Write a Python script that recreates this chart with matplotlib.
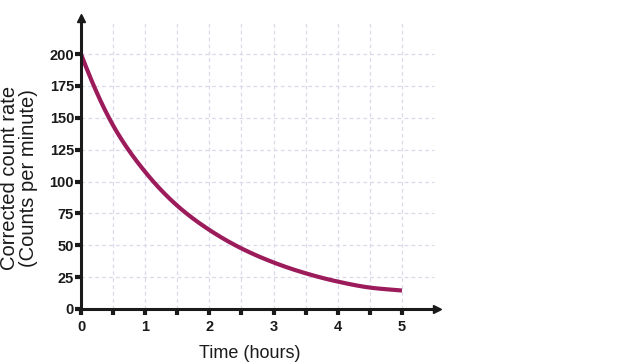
import numpy as np
import matplotlib
matplotlib.use("Agg")
import matplotlib.pyplot as plt

# Values
time_h = [0, 0.5, 1, 1.5, 2, 2.5, 3, 3.5, 4, 4.5, 5]
count_rate = [200, 144, 107.5, 81, 62, 47.5, 36.5, 28, 21.5, 16.8, 14.5]

x_labels = [0, 1, 2, 3, 4, 5]
y_ticks = [0, 25, 50, 75, 100, 125, 150, 175, 200]

curve_color = "#9c1c5b"
grid_color = "#dcd8ea"

plt.rcParams['font.family'] = ['Liberation Sans', 'DejaVu Sans']


def smooth(xs, ys, n=30):
    # Catmull-Rom spline through the read points (in log space), only for drawing
    xs = np.asarray(xs, float)
    ys = np.log(np.asarray(ys, float))
    px = np.concatenate([[2 * xs[0] - xs[1]], xs, [2 * xs[-1] - xs[-2]]])
    py = np.concatenate([[2 * ys[0] - ys[1]], ys, [2 * ys[-1] - ys[-2]]])
    out_x, out_y = [], []
    t = np.linspace(0, 1, n, endpoint=False)
    for i in range(1, len(px) - 2):
        for arr, res in ((px, out_x), (py, out_y)):
            p0, p1, p2, p3 = arr[i - 1], arr[i], arr[i + 1], arr[i + 2]
            res.extend(0.5 * (2 * p1 + (-p0 + p2) * t
                              + (2 * p0 - 5 * p1 + 4 * p2 - p3) * t ** 2
                              + (-p0 + 3 * p1 - 3 * p2 + p3) * t ** 3))
    out_x.append(xs[-1])
    out_y.append(ys[-1])
    return np.array(out_x), np.exp(np.array(out_y))


fig = plt.figure(figsize=(6.24, 3.64), dpi=100)
ax = fig.add_axes([81 / 624, 55 / 364, 359.5 / 624, 294.5 / 364])
xmax, ymax = 5.6, 231
ax.set_xlim(0, xmax)
ax.set_ylim(0, ymax)

# dashed grid
grid_x = np.arange(0.5, 5.01, 0.5)
ax.vlines(grid_x, 0, 226, colors=grid_color, linewidth=0.9, linestyles=(0, (3, 2.5)), zorder=1)
ax.hlines(y_ticks[1:], 0, 5.5, colors=grid_color, linewidth=0.9, linestyles=(0, (3, 2.5)), zorder=1)

# curve
sx, sy = smooth(time_h, count_rate)
ax.plot(sx, sy, color=curve_color, linewidth=3, solid_capstyle='butt', zorder=3)

# axes with arrows
for s in ax.spines.values():
    s.set_visible(False)
ax.plot([0, 0], [0, ymax - 3], color='#1a1a1a', lw=2.2, clip_on=False, zorder=4)
ax.plot([0, xmax - 0.05], [0, 0], color='#1a1a1a', lw=2.2, clip_on=False, zorder=4)
ax.plot([0], [ymax - 3], marker='^', color='#1a1a1a', markersize=6, clip_on=False, zorder=4)
ax.plot([xmax - 0.05], [0], marker='>', color='#1a1a1a', markersize=6, clip_on=False, zorder=4)

x_ticks = np.arange(0, 5.01, 0.5)
ax.set_xticks(x_ticks)
ax.set_xticklabels([str(int(v)) if v in x_labels else '' for v in x_ticks])
ax.set_yticks(y_ticks)
ax.set_yticklabels([str(v) for v in y_ticks])
ax.tick_params(axis='both', length=4, width=3, color='#1a1a1a', labelsize=10.5)
ax.tick_params(axis='x', pad=4)
ax.tick_params(axis='y', pad=1)
for lab in ax.get_xticklabels() + ax.get_yticklabels():
    lab.set_fontweight('bold')
    lab.set_color('#1a1a1a')

fig.text(250 / 624, 1 - 353 / 364, 'Time (hours)', fontsize=13, ha='center', va='center', color='#1a1a1a')
fig.text(19 / 624, 1 - 178 / 364, 'Corrected count rate\n(Counts per minute)', fontsize=14.5,
         ha='center', va='center', rotation=90, color='#1a1a1a', linespacing=1.05)

fig.savefig('out.png', dpi=100)
